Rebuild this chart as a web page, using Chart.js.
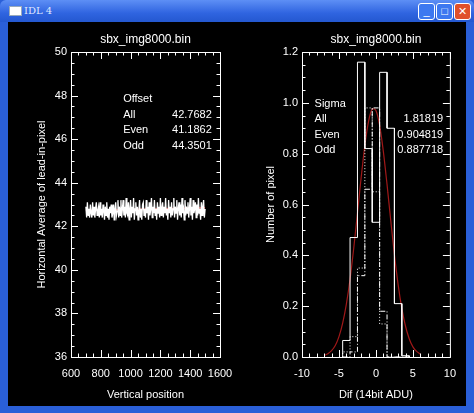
<!DOCTYPE html>
<html><head><meta charset="utf-8">
<script src="https://cdn.jsdelivr.net/npm/chart.js@4"></script>
<style>
body{margin:0;width:474px;height:413px;overflow:hidden;background:#2a5fd8;font-family:"Liberation Sans",Arial,sans-serif}
#tb{position:absolute;left:0;top:0;width:474px;height:22px;background:linear-gradient(#5d8ff5,#2f64e0 60%,#2458d0);border-radius:6px 6px 0 0}
#tb span{position:absolute;left:24px;top:5px;color:#dfe8ff;font-size:10px;font-family:"DejaVu Serif",serif}
#ic{position:absolute;left:9px;top:6px;width:11px;height:8px;background:#fff;border:1px solid #9ab}
.bt{position:absolute;top:3px;width:15px;height:15px;border:1px solid #fff;border-radius:3px;background:#3d78f0;color:#fff;font-size:11px;text-align:center;line-height:14px}
#frame{position:absolute;left:8px;top:22px;width:458px;height:384px;background:#000}
canvas{position:absolute;top:0}
</style></head><body>
<div id="tb"><div id="ic"></div><span>IDL 4</span>
<div class="bt" style="left:418px">_</div><div class="bt" style="left:436px">□</div><div class="bt" style="left:454px;background:#e0502a">✕</div></div>
<div id="frame">
<div style="position:absolute;left:0;top:0;width:240px;height:384px"><canvas id="c1"></canvas></div>
<div style="position:absolute;left:240px;top:0;width:218px;height:384px"><canvas id="c2"></canvas></div>
</div>
<script>
const title = "sbx_img8000.bin";
// Left panel
const posStart = 700, posStep = 5;
const offsetVals = [42.9,42.4,43.1,42.5,42.8,42.4,43.0,42.6,42.4,43.1,42.5,42.9,42.4,42.8,43.1,42.5,42.7,42.9,42.4,43.1,
42.5,42.8,42.4,43.0,42.7,42.3,42.9,42.5,43.1,42.4,42.8,42.3,42.9,42.6,43.0,42.4,42.6,43.0,42.3,42.8,
43.1,42.5,42.7,43.2,42.4,42.9,42.5,43.2,42.4,42.8,43.2,42.5,42.9,42.4,43.3,42.6,42.5,43.1,42.3,42.8,
43.2,42.4,42.9,42.6,43.3,42.3,42.8,43.1,42.5,42.9,42.3,42.7,43.2,42.4,42.8,42.3,43.0,43.1,42.5,42.8,
42.4,43.2,42.6,42.9,42.3,43.1,42.5,42.8,43.3,42.4,42.9,42.6,43.2,42.5,42.8,42.3,43.1,42.6,42.9,42.4,
43.3,42.5,42.8,43.1,42.4,42.9,42.6,43.3,42.5,42.8,42.3,43.2,42.6,42.9,42.4,43.1,42.5,42.8,43.3,42.4,
42.9,42.6,43.2,42.3,42.8,43.1,42.5,43.0,42.4,43.3,42.6,42.8,42.3,43.2,42.5,42.9,42.6,43.1,42.4,42.8,
43.3,42.5,42.9,42.3,43.2,42.6,42.8,43.1,42.4,43.0,42.5,43.3,42.6,42.8,42.3,43.1,42.5,42.9,43.2,42.4,42.8];
const fitLine = [[700,42.72],[1500,42.85]];
const offsetLabels = ["Offset","All","Even","Odd"];
const offsetNums = ["","42.7682","41.1862","44.3501"];
// Right panel
const binCenters = [-4,-3,-2,-1,0,1,2,3,4];
const histAll  = [0.065,0.47,1.16,0.82,0.53,1.12,0.90,0.21,0.005];
const histEven = [0.0,0.02,0.32,0.66,0.98,0.18,0.0,0.0,0.0];
const histOdd  = [0.02,0.08,0.35,0.98,0.65,0.13,0.0,0.0,0.0];
const gaussX = [-7,-6.5,-6,-5.5,-5,-4.5,-4,-3.5,-3,-2.5,-2,-1.5,-1,-0.5,0,0.5,1,1.5,2,2.5,3,3.5,4,4.5,5,5.5,6];
const gaussY = [0.006,0.013,0.025,0.045,0.080,0.133,0.208,0.307,0.429,0.566,0.706,0.832,0.927,0.976,0.970,0.911,0.809,0.679,0.538,0.403,0.285,0.191,0.121,0.072,0.040,0.022,0.011];
const sigmaLabels = ["Sigma","All","Even","Odd"];
const sigmaNums = ["","1.81819","0.904819","0.887718"];

const F = '"Liberation Sans", Arial, sans-serif';
function steps(vals){const p=[];binCenters.forEach((c,i)=>{p.push({x:c-0.5,y:vals[i]});p.push({x:c+0.5,y:vals[i]});});
  p.unshift({x:binCenters[0]-0.5,y:0});p.push({x:binCenters[binCenters.length-1]+0.5,y:0});return p;}

function idlPlugin(cfg){return {id:'idl',afterDraw(ch){
  const c=ch.ctx,a=ch.chartArea,xs=ch.scales.x,ys=ch.scales.y;
  c.save();c.strokeStyle='#fff';c.lineWidth=1;
  c.strokeRect(a.left+0.5,a.top+0.5,a.right-a.left,a.bottom-a.top);
  c.beginPath();
  for(let v=xs.min;v<=xs.max+1e-9;v+=cfg.xminor){const px=Math.round(xs.getPixelForValue(v))+0.5;
    const maj=Math.abs(v/cfg.xmajor-Math.round(v/cfg.xmajor))<1e-6;const L=maj?7:3.5;
    c.moveTo(px,a.bottom);c.lineTo(px,a.bottom-L);c.moveTo(px,a.top);c.lineTo(px,a.top+L);}
  for(let v=ys.min;v<=ys.max+1e-9;v+=cfg.yminor){const py=Math.round(ys.getPixelForValue(v))+0.5;
    const maj=Math.abs(v/cfg.ymajor-Math.round(v/cfg.ymajor))<1e-6;const L=maj?7:3.5;
    c.moveTo(a.left,py);c.lineTo(a.left+L,py);c.moveTo(a.right,py);c.lineTo(a.right-L,py);}
  c.stroke();
  c.fillStyle='#fff';c.font='12px '+F;c.textAlign='center';c.textBaseline='alphabetic';
  c.fillText(title,(a.left+a.right)/2,a.top-9);
  c.font='11px '+F;
  cfg.labels.forEach((t,i)=>{c.textAlign='left';c.fillText(t,xs.getPixelForValue(cfg.lx),ys.getPixelForValue(cfg.ly)+i*15.5);
    c.textAlign='right';c.fillText(cfg.nums[i],xs.getPixelForValue(cfg.rx),ys.getPixelForValue(cfg.ly)+i*15.5);});
  c.restore();}};}

function axes(xmin,xmax,xstep,ymin,ymax,ystep,xt,yt,yw,yfmt,tpad){
  return {x:{type:'linear',min:xmin,max:xmax,grid:{display:false,drawTicks:false,tickLength:0},border:{display:false},
      ticks:{stepSize:xstep,color:'#fff',font:{family:F,size:11},padding:10,maxRotation:0,callback:v=>String(v)},
      title:{display:true,text:xt,color:'#fff',font:{family:F,size:11},padding:{top:2}},afterFit:s=>{s.height=49;}},
    y:{type:'linear',min:ymin,max:ymax,grid:{display:false,drawTicks:false,tickLength:0},border:{display:false},
      ticks:{stepSize:ystep,color:'#fff',font:{family:F,size:11},padding:4,callback:yfmt},
      title:{display:true,text:yt,color:'#fff',font:{family:F,size:11},padding:{top:tpad,bottom:0}},afterFit:s=>{s.width=yw;}}};
}
Chart.defaults.animation=false;
new Chart(document.getElementById('c1'),{type:'scatter',
  data:{datasets:[
    {data:offsetVals.map((v,i)=>({x:posStart+i*posStep,y:v})),showLine:true,borderColor:'#fff',borderWidth:1.3,pointRadius:0},
    {data:fitLine.map(p=>({x:p[0],y:p[1]})),showLine:true,borderColor:'#d02020',borderWidth:1.5,pointRadius:0}]},
  options:{responsive:true,maintainAspectRatio:false,layout:{padding:{top:30,right:28,left:0,bottom:0}},
    plugins:{legend:{display:false},tooltip:{enabled:false}},
    scales:axes(600,1600,200,36,50,2,'Vertical position','Horizontal Average of lead-in-pixel',63,v=>String(v),27)},
  plugins:[idlPlugin({xminor:50,xmajor:200,yminor:0.5,ymajor:2,labels:offsetLabels,nums:offsetNums,lx:950,rx:1545,ly:47.7})]});
new Chart(document.getElementById('c2'),{type:'scatter',
  data:{datasets:[
    {data:steps(histAll),showLine:true,borderColor:'#fff',borderWidth:1,pointRadius:0},
    {data:steps(histEven),showLine:true,borderColor:'#fff',borderWidth:1,borderDash:[5,2,1,2],pointRadius:0},
    {data:steps(histOdd),showLine:true,borderColor:'#fff',borderWidth:1,borderDash:[1,2],pointRadius:0},
    {data:gaussX.map((x,i)=>({x,y:gaussY[i]})),showLine:true,borderColor:'#a01818',borderWidth:1.2,pointRadius:0,tension:0.3}]},
  options:{responsive:true,maintainAspectRatio:false,layout:{padding:{top:30,right:14,left:0,bottom:0}},
    plugins:{legend:{display:false},tooltip:{enabled:false}},
    scales:axes(-10,10,5,0,1.2,0.2,'Dif (14bit ADU)','Number of pixel',54,v=>v.toFixed(1),16)},
  plugins:[idlPlugin({xminor:1,xmajor:5,yminor:0.05,ymajor:0.2,labels:sigmaLabels,nums:sigmaNums,lx:-8.3,rx:9.1,ly:0.985})]});
</script></body></html>
